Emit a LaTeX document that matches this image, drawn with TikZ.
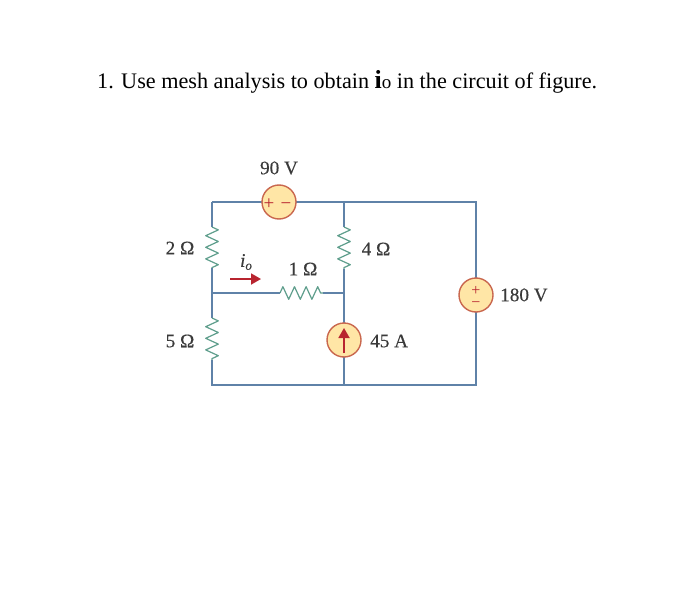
\documentclass[tikz,border=0pt]{standalone}
\usepackage{fontspec}
\setmainfont{Liberation Serif}
\newfontfamily\labfont[FakeBold=0.25]{Liberation Serif}
\usetikzlibrary{arrows.meta,decorations.pathmorphing}
\definecolor{wirec}{HTML}{5F82A8}
\definecolor{resc}{HTML}{5E9E8C}
\definecolor{srcfill}{HTML}{FFE6A6}
\definecolor{srcedge}{HTML}{C9674E}
\definecolor{redc}{HTML}{B8242F}
\definecolor{labc}{HTML}{3A3A3A}
\tikzset{
  wire/.style={draw=wirec,line width=1.2pt},
  res/.style={draw=resc,line width=1.2pt,line join=round,decorate,
    decoration={zigzag,segment length=11.6pt,amplitude=6.3pt}},
  src/.style={circle,draw=srcedge,fill=srcfill,line width=1.4pt,minimum size=34pt,inner sep=0pt},
  lab/.style={text=labc,font=\labfont\fontsize{19.2}{20}\selectfont,inner sep=0pt},
  title/.style={text=black,font=\fontsize{22.2}{26}\selectfont,inner sep=0pt,anchor=west},
  sign/.style={text=redc,font=\fontsize{19}{19}\selectfont,inner sep=0pt,text height=9pt,text depth=0pt},
  sign small/.style={text=redc,font=\fontsize{16}{16}\selectfont,inner sep=0pt,text height=6pt,text depth=0pt},
  redarrow/.style={draw=redc,line width=1.8pt,-{Triangle[length=10pt,width=11pt]}}
}
\begin{document}
\begin{tikzpicture}[x=1pt,y=-1pt]
\useasboundingbox[fill=white] (0,0) rectangle (700,588);
\node[title] (t) at (97,82) {1. Use mesh analysis to obtain {\fontsize{26}{26}\selectfont\bfseries i}{\fontsize{19}{26}\selectfont o} in the circuit of figure.};
% junctions
\coordinate (tl) at (212,202);
\coordinate (tm) at (344,202);
\coordinate (tr) at (476,202);
\coordinate (ml) at (212,293);
\coordinate (mm) at (344,293);
\coordinate (bl) at (212,385);
\coordinate (bm) at (344,385);
\coordinate (br) at (476,385);
% resistor ends
\coordinate (r2a) at (212,227); \coordinate (r2b) at (212,268);
\coordinate (r5a) at (212,318); \coordinate (r5b) at (212,360);
\coordinate (r4a) at (344,227); \coordinate (r4b) at (344,269);
\coordinate (r1a) at (280,293); \coordinate (r1b) at (323,293);
% wires
\draw[wire] (tl) -- (tr) -- (br) -- (bl) -- (r5b);
\draw[wire] (r5a) -- (r2b);
\draw[wire] (r2a) -- (tl);
\draw[wire] (ml) -- (r1a);
\draw[wire] (r1b) -- (mm);
\draw[wire] (tm) -- (r4a);
\draw[wire] (r4b) -- (bm);
% resistors
\draw[res] (r2a) -- (r2b);
\draw[res] (r5a) -- (r5b);
\draw[res] (r4a) -- (r4b);
\draw[res] (r1a) -- (r1b);
% sources
\node[src] (v90) at (279,202) {};
\node[src] (v180) at (476,295) {};
\node[src] (a45) at (344,340) {};
\node[sign] (v90p) at (269,204.5) {+};
\node[sign] (v90m) at (286,204.5) {−};
\node[sign small] (v180p) at (476,292) {+};
\node[sign small] (v180m) at (476,304.5) {−};
\coordinate (a45b) at (344,353);
\coordinate (a45t) at (344,328);
\draw[redarrow] (a45b) -- (a45t);
% labels
\node[lab] (l90) at (279,168) {90 V};
\node[lab] (l2) at (180,248) {2 Ω};
\node[lab] (l5) at (180,341) {5 Ω};
\node[lab] (l1) at (303,269) {1 Ω};
\node[lab] (l4) at (376,249) {4 Ω};
\node[lab,anchor=west] (l45) at (370,341) {45 A};
\node[lab,anchor=west] (l180) at (500,295) {180 V};
\node[lab] (lio) at (246,262) {\textit{i}\raisebox{-3pt}{\fontsize{13}{13}\selectfont\textit{o}}};
\coordinate (ioa) at (230,279);
\coordinate (iob) at (261,279);
\draw[redarrow] (ioa) -- (iob);
\end{tikzpicture}
\end{document}
